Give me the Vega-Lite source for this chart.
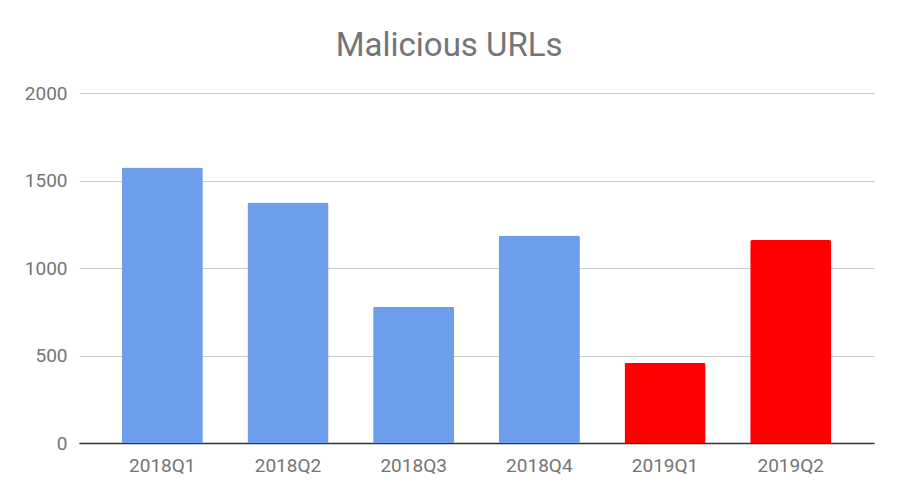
{
  "$schema": "https://vega.github.io/schema/vega-lite/v6.json",
  "width": 795,
  "height": 350,
  "autosize": {"type": "none"},
  "padding": {"left": 79, "top": 93, "right": 26, "bottom": 61},
  "background": "white",
  "title": {
    "text": "Malicious URLs",
    "font": "Roboto",
    "fontSize": 33,
    "fontWeight": "normal",
    "color": "#757575",
    "anchor": "middle",
    "frame": "bounds",
    "offset": 21
  },
  "data": {
    "values": [
      {"quarter": "2018Q1", "year": "2018", "urls": 1575},
      {"quarter": "2018Q2", "year": "2018", "urls": 1375},
      {"quarter": "2018Q3", "year": "2018", "urls": 779},
      {"quarter": "2018Q4", "year": "2018", "urls": 1186},
      {"quarter": "2019Q1", "year": "2019", "urls": 459},
      {"quarter": "2019Q2", "year": "2019", "urls": 1160}
    ]
  },
  "mark": {"type": "bar", "cornerRadiusTopLeft": 2, "cornerRadiusTopRight": 2},
  "encoding": {
    "x": {
      "field": "quarter",
      "type": "nominal",
      "sort": null,
      "scale": {"paddingInner": 0.355, "paddingOuter": 0.34},
      "axis": {
        "title": null,
        "labelAngle": 0,
        "labelFont": "Roboto",
        "labelFontSize": 19,
        "labelColor": "#757575",
        "labelPadding": 13,
        "ticks": false,
        "domainColor": "#333333",
        "domainWidth": 1.5,
        "grid": false
      }
    },
    "y": {
      "field": "urls",
      "type": "quantitative",
      "scale": {"domain": [0, 2000]},
      "axis": {
        "title": null,
        "values": [0, 500, 1000, 1500, 2000],
        "format": "d",
        "labelFont": "Roboto",
        "labelFontSize": 19,
        "labelColor": "#757575",
        "labelPadding": 12,
        "ticks": false,
        "domain": false,
        "gridColor": "#cccccc",
        "gridWidth": 1.2
      }
    },
    "color": {
      "field": "year",
      "type": "nominal",
      "scale": {"domain": ["2018", "2019"], "range": ["#6d9eeb", "#ff0000"]},
      "legend": null
    }
  },
  "config": {"view": {"stroke": null}}
}
